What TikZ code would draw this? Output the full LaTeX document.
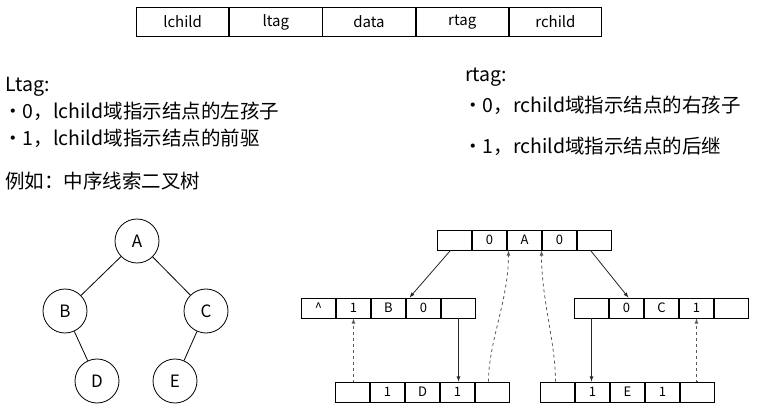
\documentclass[tikz,border=0pt]{standalone}
\usepackage{fontspec}
\setmainfont{Noto Sans CJK SC}
\usetikzlibrary{positioning}
\begin{document}
\begin{tikzpicture}[x=1pt,y=-1pt,line width=0.8pt,
  cell/.style={draw=black,minimum width=34.2pt,minimum height=20pt,inner sep=0pt,font=\fontsize{13}{13}\selectfont,anchor=west},
  head/.style={draw=black,minimum width=92.4pt,minimum height=29pt,inner sep=0pt,font=\fontsize{15}{15}\selectfont,anchor=west},
  treenode/.style={circle,draw=black,minimum size=44pt,inner sep=0pt,font=\fontsize{17}{17}\selectfont},
  txt/.style={anchor=west,inner sep=0pt,font=\fontsize{19.5}{20}\selectfont},
  thread/.style={dashed,gray!70!black,-latex},
  link/.style={gray!30!black,-latex}]
\useasboundingbox (0,0) rectangle (764,409);
% field layout
\node[head] (h1) at (136,22) {lchild};
\node[head,right=0pt of h1] (h2) {ltag};
\node[head,right=0pt of h2] (h3) {data};
\node[head,right=0pt of h3] (h4) {rtag};
\node[head,right=0pt of h4] (h5) {rchild};
% explanations
\node[txt] (lt0) at (5,87) {Ltag:};
\node[txt] (lt1) at (3,111) {•0，lchild域指示结点的左孩子};
\node[txt] (lt2) at (3,138) {•1，lchild域指示结点的前驱};
\node[txt] (ex) at (5,181) {例如：中序线索二叉树};
\node[txt] (rt0) at (465,77) {rtag:};
\node[txt] (rt1) at (463,105) {•0，rchild域指示结点的右孩子};
\node[txt] (rt2) at (463,146) {•1，rchild域指示结点的后继};
% binary tree
\node[treenode] (ta) at (137,241) {A};
\node[treenode] (tb) at (65,311) {B};
\node[treenode] (tc) at (206,311) {C};
\node[treenode] (td) at (97,381) {D};
\node[treenode] (te) at (175,381) {E};
\draw (ta) -- (tb) (ta) -- (tc) (tb) -- (td) (tc) -- (te);
% threaded records
\foreach \r/\x/\y/\a/\b/\c/\d/\e in {A/437/240//0/A/0/, B/301/308/\^{}/1/B/0/, C/574/308//0/C/1/, D/335/392//1/D/1/, E/540/392//1/E/1/}{
  \node[cell] (\r1) at (\x,\y) {\a};
  \node[cell,right=0pt of \r1] (\r2) {\b};
  \node[cell,right=0pt of \r2] (\r3) {\c};
  \node[cell,right=0pt of \r3] (\r4) {\d};
  \node[cell,right=0pt of \r4] (\r5) {\e};
}
\draw[link] ([xshift=-4pt]A1.south) -- ([xshift=-14pt]B4.north);
\draw[link] ([xshift=-4pt]A5.south) -- ([xshift=2pt]C2.north);
\draw[link] (B5.south) -- (B5.south |- D4.north);
\draw[link] (C1.south) -- (C1.south |- E2.north);
\draw[thread] (D1.north) -- (D1.north -| B2.south) -- (B2.south);
\draw[thread] (E5.north) -- (E5.north -| C4.south) -- (C4.south);
\draw[thread] ([xshift=-4pt]D5.north) .. controls +(0,-40) and +(0,50) .. ([xshift=-16pt]A3.south);
\draw[thread] ([xshift=-2pt]E1.north) .. controls +(0,-40) and +(0,50) .. ([xshift=-18pt]A4.south);
\end{tikzpicture}
\end{document}
